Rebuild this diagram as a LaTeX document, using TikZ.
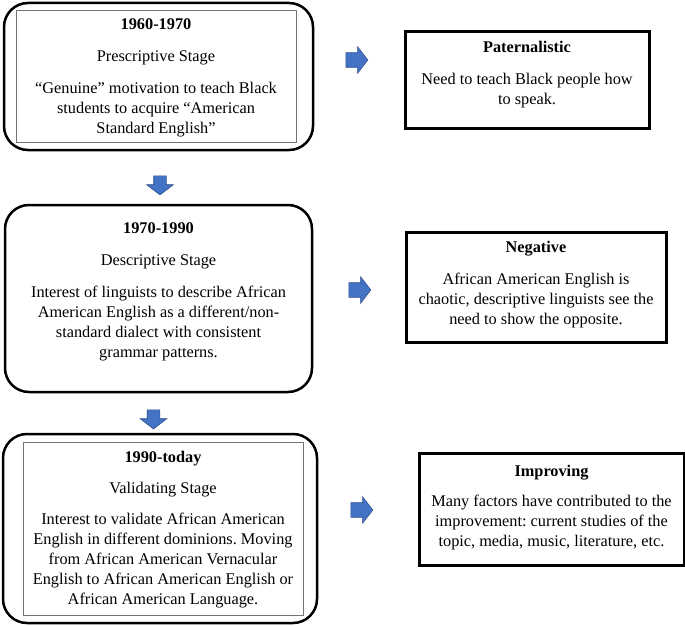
\documentclass[tikz,border=0pt]{standalone}
\usepackage{fontspec}
\setmainfont{Liberation Serif}
\usepackage{xcolor}
\usetikzlibrary{shapes.arrows}
\definecolor{arrowblue}{HTML}{4472C4}
\definecolor{arrowedge}{HTML}{2F528F}
\frenchspacing

\begin{document}
\begin{tikzpicture}[x=1pt, y=1pt,
    stagebox/.style={rectangle, rounded corners=24pt, draw, line width=2.5pt, inner sep=0pt},
    framebox/.style={rectangle, draw=black!55, line width=0.8pt, inner sep=0pt},
    viewbox/.style={rectangle, draw, line width=3pt, inner sep=0pt},
    boxtext/.style={align=center, inner sep=0pt, font=\fontsize{16.3}{20}\selectfont},
    blockarrow/.style={single arrow, draw=arrowedge, fill=arrowblue, line width=0.6pt, inner sep=0pt,
        text width=0pt, text height=7pt, text depth=7pt, minimum height=22pt,
        single arrow head extend=6pt, single arrow tip angle=105}]
    \useasboundingbox (0,0) rectangle (685,-626);

    % stages on the left
    \node (stage1) [stagebox, minimum width=309pt, minimum height=147pt] at (158.5,-76.5) {};
    \node (frame1) [framebox, minimum width=280pt, minimum height=132pt] at (156,-76) {};
    \node (text1) [boxtext] at (156,-77.5) {\textbf{1960-1970}\\[12pt] Prescriptive Stage\\[12pt] “Genuine” motivation to teach Black\\ students to acquire “American\\ Standard English”};

    \node (stage2) [stagebox, minimum width=307pt, minimum height=187pt] at (158.5,-298.5) {};
    \node (text2) [boxtext] at (158.5,-292) {\textbf{1970-1990}\\[12pt] Descriptive Stage\\[12pt] Interest of linguists to describe African\\ American English as a different/non-\\ standard dialect with consistent\\ grammar patterns.};

    \node (stage3) [stagebox, minimum width=314pt, minimum height=189pt] at (160,-528.5) {};
    \node (frame3) [framebox, minimum width=280pt, minimum height=173pt] at (163,-528.5) {};
    \node (text3) [boxtext] at (163,-530) {\textbf{1990-today}\\[11pt] Validating Stage\\[11pt] Interest to validate African American\\ English in different dominions. Moving\\ from African American Vernacular\\ English to African American English or\\ African American Language.};

    % attitudes on the right
    \node (view1) [viewbox, minimum width=244pt, minimum height=96pt] at (527,-80) {};
    \node (note1) [boxtext] at (527,-75) {\textbf{Paternalistic}\\[12pt] Need to teach Black people how\\ to speak.};

    \node (view2) [viewbox, minimum width=260pt, minimum height=110pt] at (536,-287) {};
    \node (note2) [boxtext] at (536,-285) {\textbf{Negative}\\[12pt] African American English is\\ chaotic, descriptive linguists see the\\ need to show the opposite.};

    \node (view3) [viewbox, minimum width=265pt, minimum height=112pt] at (551.5,-509) {};
    \node (note3) [boxtext] at (551.5,-508) {\textbf{Improving}\\[10pt] Many factors have contributed to the\\ improvement: current studies of the\\ topic, media, music, literature, etc.};

    % block arrows
    \node (shift1) [blockarrow] at (354,-60) {};
    \node (shift2) [blockarrow] at (357,-290) {};
    \node (shift3) [blockarrow] at (359,-510) {};
    \node (down1) [blockarrow, rotate=-90, minimum height=19pt, text height=6pt, text depth=6pt, single arrow head extend=7pt] at (160,-183) {};
    \node (down2) [blockarrow, rotate=-90, minimum height=19pt, text height=6pt, text depth=6pt, single arrow head extend=7pt] at (153.5,-417) {};
\end{tikzpicture}
\end{document}
